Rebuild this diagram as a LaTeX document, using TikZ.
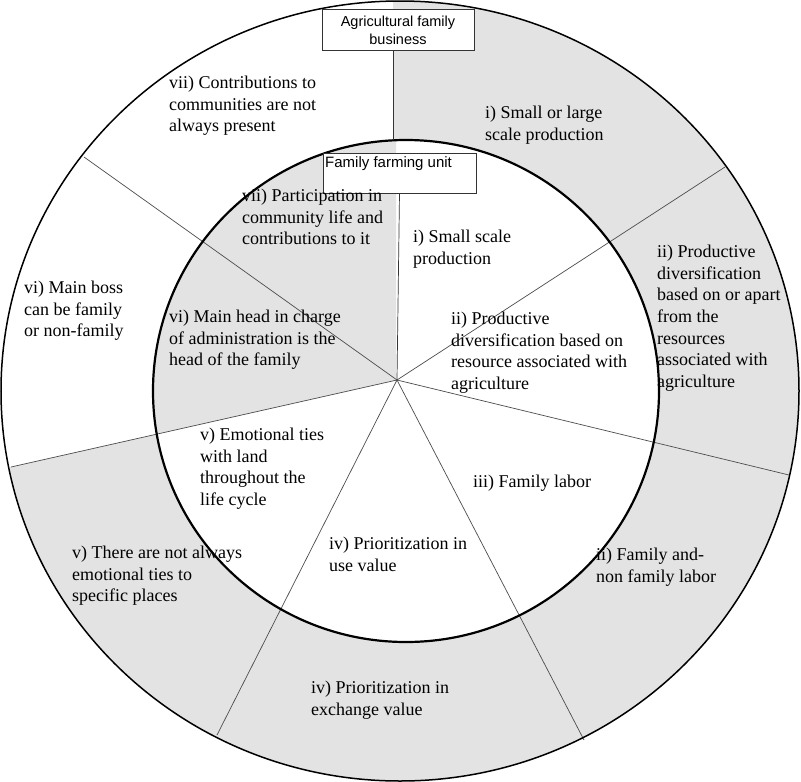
\documentclass[tikz,border=0pt]{standalone}
\usepackage{fontspec}
\setmainfont{Liberation Serif}
\newfontfamily\boxfont{Liberation Sans}
\begin{document}
\begin{tikzpicture}[x=1pt,y=-1pt,
  lab/.style={anchor=north west,align=left,inner sep=0pt,font=\fontsize{18}{21.6}\selectfont},
  spoke/.style={draw=black!70,line width=0.7pt},
  shade/.style={fill=black!11}]
\useasboundingbox (0,0) rectangle (801,782);
\coordinate (C) at (397,380);
% outer ellipse
\fill[white] (400,391) ellipse [x radius=399,y radius=390];
\begin{scope}
\clip (400,391) ellipse [x radius=399,y radius=390];
\fill[shade] (C) -- (393,140) -- (393,-300) -- (1200,-300) -- (1200,1200) -- (-400,1200) -- (-375,554) -- cycle;
\end{scope}
\fill[white] (406,391) ellipse [x radius=253,y radius=251];
\begin{scope}
\clip (406,391) ellipse [x radius=253,y radius=251];
\fill[shade] (C) -- (-375,554) -- (-229,-66) -- (-229,-300) -- (396,-300) -- (396,380) -- cycle;
\end{scope}
% spokes
\coordinate (p1) at (725,167);
\coordinate (p2) at (789,475);
\coordinate (p3) at (584,740);
\coordinate (p4) at (217,735);
\coordinate (p5) at (11,467);
\coordinate (p6) at (84,157);
\foreach \p in {p1,p2,p3,p4,p5,p6} \draw[spoke] (C) -- (\p);
\draw[line width=1.5pt] (400,391) ellipse [x radius=399,y radius=390];
\draw[line width=2.2pt] (406,391) ellipse [x radius=253,y radius=251];
% boxes
\node[draw=black!80,fill=white,minimum width=152pt,minimum height=41pt,inner sep=0pt,align=center,font=\boxfont\fontsize{14.5}{18}\selectfont] (afb) at (398,30) {Agricultural family\\business};
\node[draw=black!80,fill=white,minimum width=153pt,minimum height=40pt,inner sep=0pt] (ffu) at (399.5,173) {};
\node[anchor=north west,inner sep=0pt,font=\boxfont\fontsize{15}{16}\selectfont] (ffut) at (325,156) {Family farming unit};
\draw[spoke,draw=black!80] (ffu.south) -- (C);
\draw[spoke,draw=black!80] (afb.south -| 393,0) -- (393,140);
% labels
\node[lab] (o7) at (169,76) {vii) Contributions to\\communities are not\\always present};
\node[lab] (o1) at (485,106) {i) Small or large\\scale production};
\node[lab] (i7) at (242,189) {vii) Participation in\\community life and\\contributions to it};
\node[lab] (i1) at (413,230) {i) Small scale\\production};
\node[lab] (o2) at (657,245) {ii) Productive\\diversification\\based on or apart\\from the\\resources\\associated with\\agriculture};
\node[lab] (o6) at (24,281) {vi) Main boss\\can be family\\or non-family};
\node[lab] (i6) at (169,310) {vi) Main head in charge\\of administration is the\\head of the family};
\node[lab] (i2) at (451,312) {ii) Productive\\diversification based on\\resource associated with\\agriculture};
\node[lab] (i5) at (200,428) {v) Emotional ties\\with land\\throughout the\\life cycle};
\node[lab] (i3) at (473,475) {iii) Family labor};
\node[lab] (i4) at (329,537) {iv) Prioritization in\\use value};
\node[lab] (o5) at (72,546) {v) There are not always\\emotional ties to\\specific places};
\node[lab] (o3) at (596,548) {ii) Family and-\\non family labor};
\node[lab] (o4) at (311,681) {iv) Prioritization in\\exchange value};
\end{tikzpicture}
\end{document}
